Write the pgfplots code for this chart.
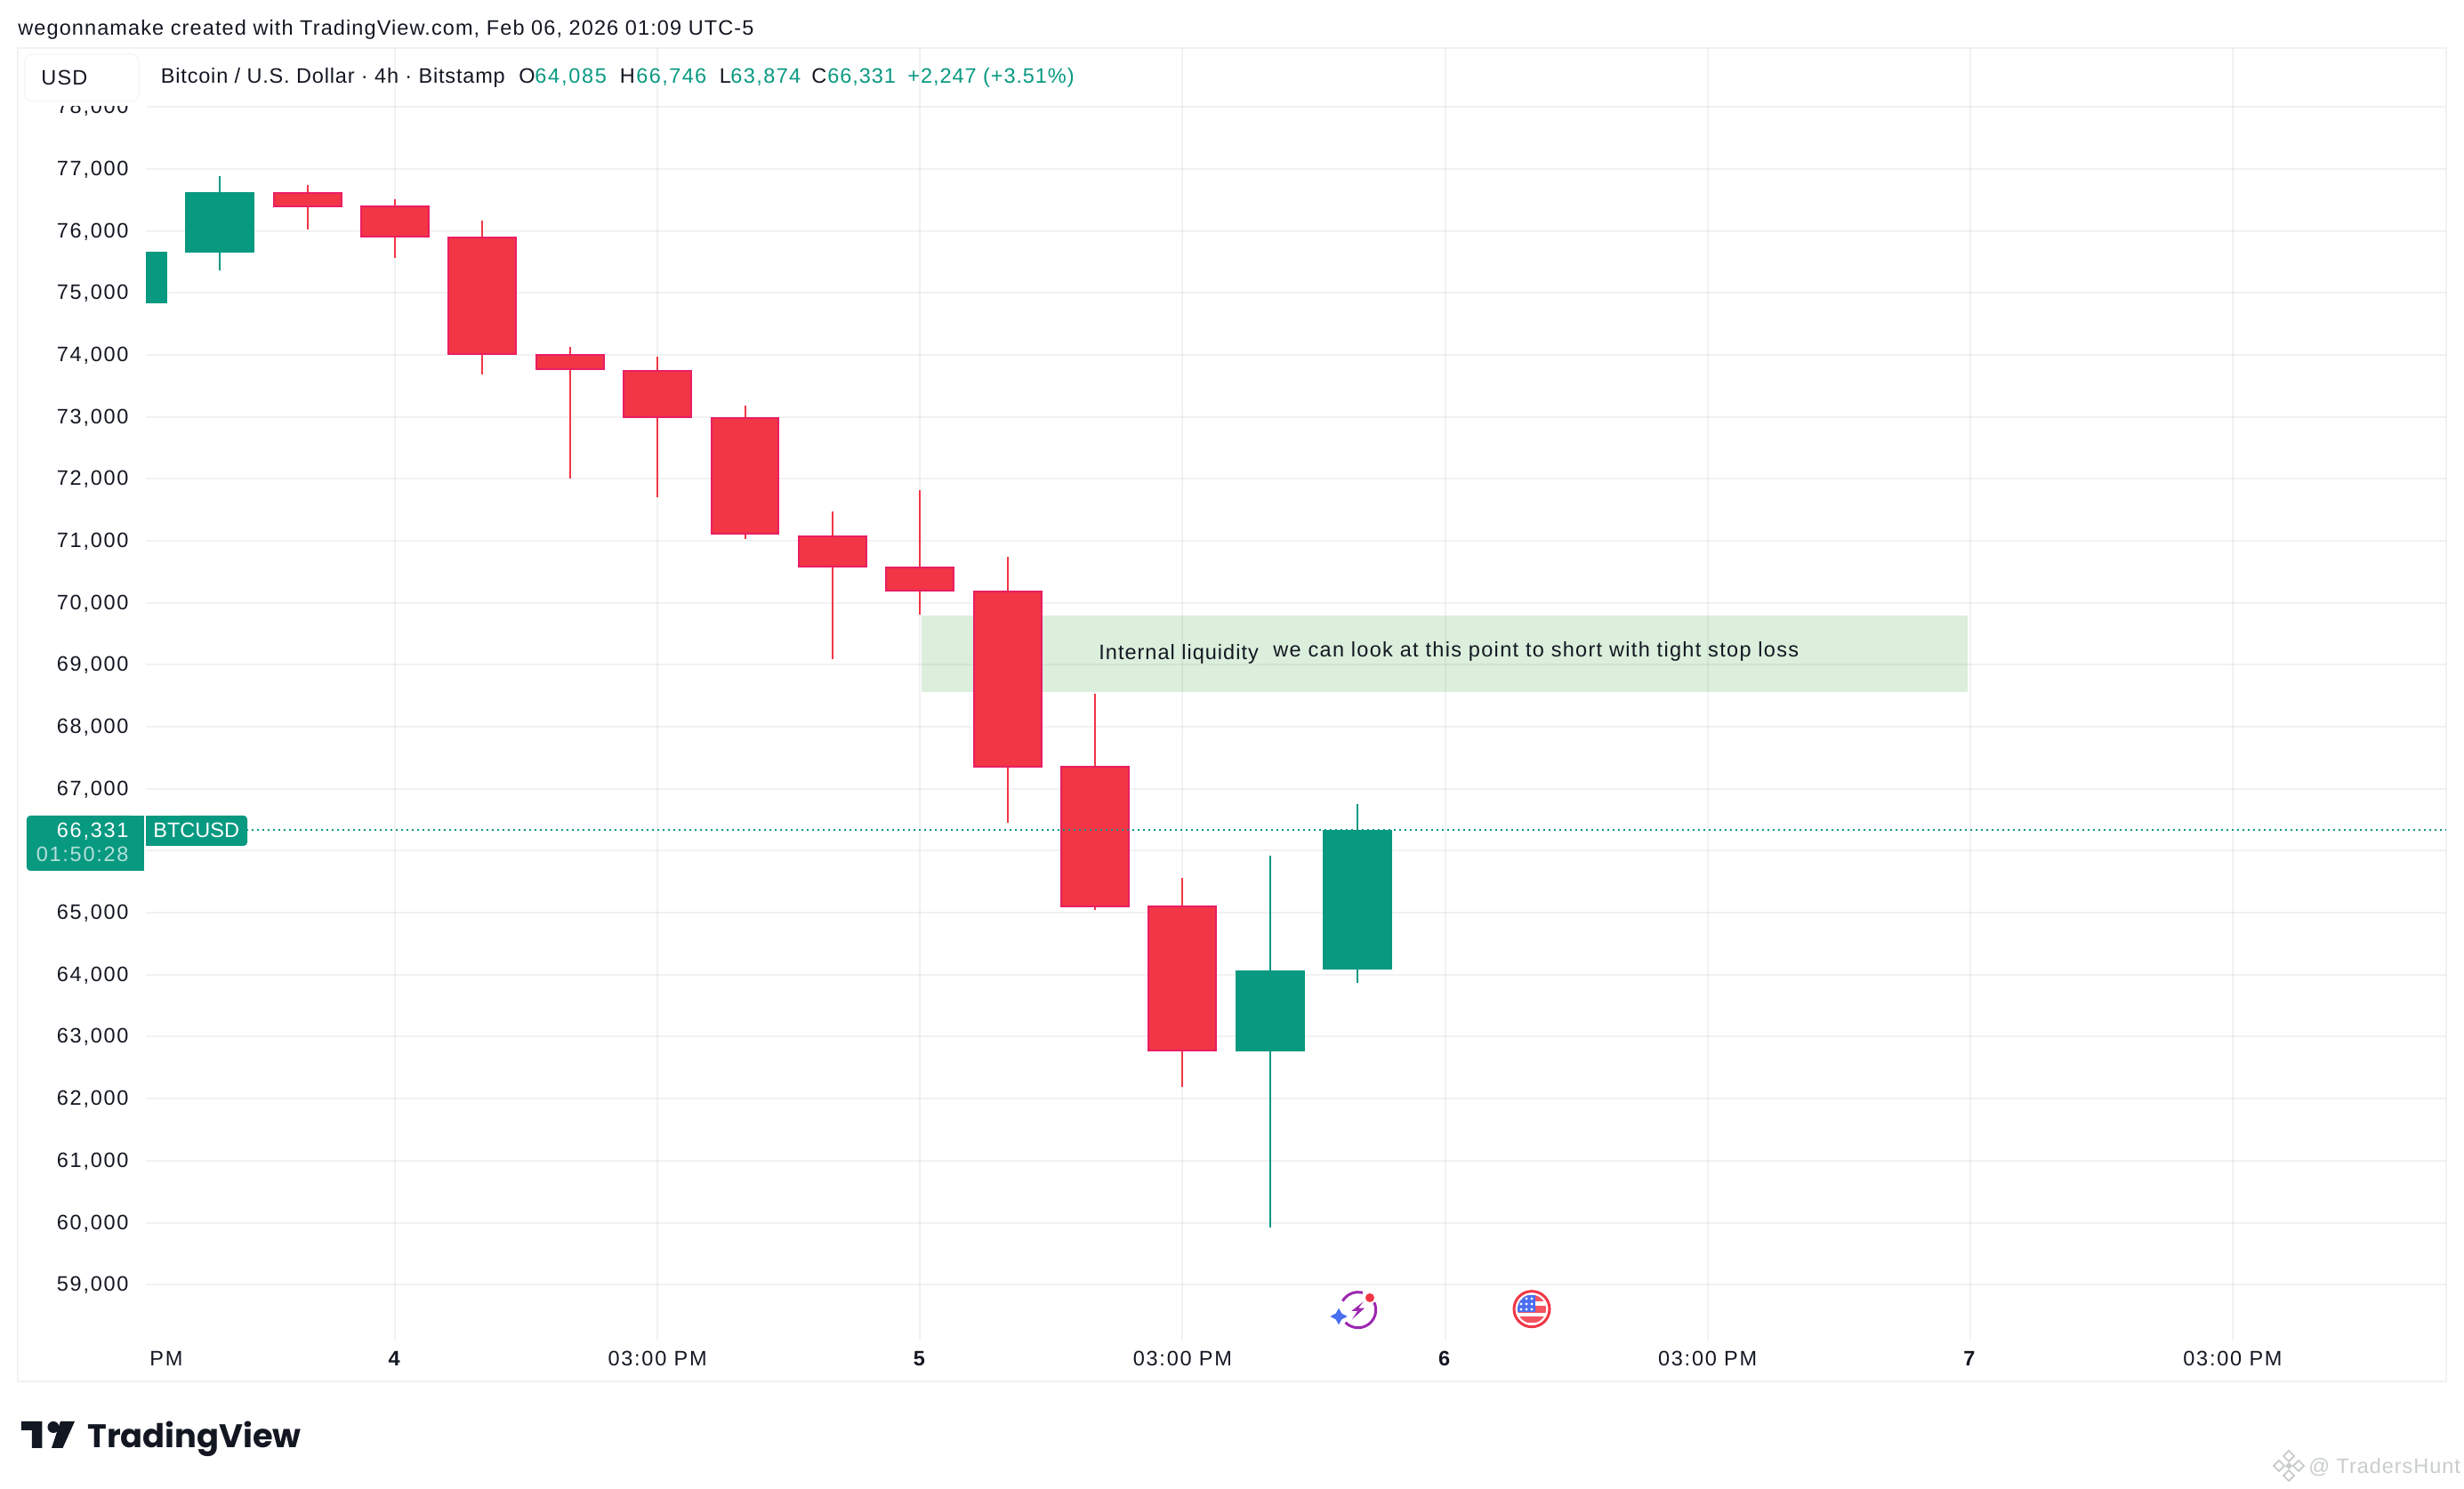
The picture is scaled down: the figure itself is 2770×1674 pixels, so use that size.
\documentclass[border=0pt]{standalone}
\usepackage{fontspec}
\usepackage{pgfplots}
\pgfplotsset{compat=1.18}
\setmainfont{Liberation Sans}[LetterSpace=5]
\newfontfamily\logofont{Poppins}
\definecolor{tvgreen}{HTML}{089981}
\definecolor{tvred}{HTML}{F23645}
\definecolor{tvborder}{HTML}{E91E63}
\definecolor{tvtext}{HTML}{131722}
\definecolor{zone}{HTML}{4CAF50}
\definecolor{wm}{HTML}{C9CDCD}
\definecolor{iconpurple}{HTML}{9C27B0}
\definecolor{iconblue}{HTML}{4A6FF0}
\newcommand\tvfont{\fontsize{11.75}{14}\selectfont}
\newcommand\ls[1]{\addfontfeatures{LetterSpace=#1}}
% position, open, high, low, close
\newcommand\redcandle[5]{%
  \pgfmathsetmacro\xl{#1-0.386}\pgfmathsetmacro\xr{#1+0.386}%
  \addplot[tvred,line width=1pt] coordinates {(#1,#3) (#1,#4)};
  \addplot[draw=tvborder,fill=tvred,line width=1pt] coordinates {(\xl,#2) (\xr,#2) (\xr,#5) (\xl,#5)} --cycle;
}
\newcommand\greencandle[5]{%
  \pgfmathsetmacro\xl{#1-0.3965}\pgfmathsetmacro\xr{#1+0.3965}%
  \addplot[tvgreen,line width=1pt] coordinates {(#1,#3) (#1,#4)};
  \addplot[draw=none,fill=tvgreen] coordinates {(\xl,#2) (\xr,#2) (\xr,#5) (\xl,#5)} --cycle;
}
\begin{document}
\begin{tikzpicture}
\begin{scope}[x=.5pt,y=-.5pt,shift={(-82pt,753.5pt)}]
\useasboundingbox (0,0) rectangle (2770,1674);
\fill[white] (0,0) rectangle (2770,1674);
\draw[black!5,line width=1pt] (20,54) rectangle (2750,1553);
\end{scope}
\begin{axis}[
  at={(0pt,0pt)},anchor=south west,scale only axis,
  width=1293pt,height=726.5pt,
  xmin=-2.846,xmax=23.44,ymin=58099,ymax=78952,
  axis line style={draw=none},major tick length=0pt,
  xtick={0,3,6,9,12,15,18,21},
  xticklabels={\textbf{4},03:00 PM,\textbf{5},03:00 PM,\textbf{6},03:00 PM,\textbf{7},03:00 PM},
  ytick={59000,60000,61000,62000,63000,64000,65000,67000,68000,69000,70000,71000,72000,73000,74000,75000,76000,77000,78000},
  extra y ticks={66000},extra y tick labels={},
  extra tick style={grid=major},
  scaled y ticks=false,
  grid=major,
  major grid style={draw=black,opacity=.05,line width=1pt},
  /pgf/number format/fixed,
  /pgf/number format/1000 sep={,},
  /pgf/number format/assume math mode=true,
  ticklabel style={font=\tvfont\ls{7.5},text=tvtext},
  y tick label style={anchor=east,inner xsep=0pt,xshift=-9.5pt,yshift=-.4pt},
  x tick label style={anchor=base,inner ysep=0pt,yshift=-14.5pt},
]
\addplot[draw=none,fill=zone,fill opacity=.2] coordinates {(6.02,69796) (17.97,69796) (17.97,68561) (6.02,68561)} --cycle;
\greencandle{-3}{74833}{75665}{74833}{75665}
\greencandle{-2}{75651}{76885}{75364}{76627}
\redcandle{-1}{76613}{76742}{76024}{76401}
\redcandle{0}{76398}{76512}{75565}{75909}
\redcandle{1}{75895}{76168}{73685}{74014}
\redcandle{2}{74001}{74130}{72006}{73771}
\redcandle{3}{73743}{73972}{71704}{72996}
\redcandle{4}{72982}{73182}{71030}{71116}
\redcandle{5}{71073}{71475}{69093}{70585}
\redcandle{6}{70571}{71819}{69810}{70197}
\redcandle{7}{70183}{70743}{66452}{67356}
\redcandle{8}{67356}{68533}{65045}{65102}
\redcandle{9}{65103}{65562}{62190}{62778}
\greencandle{10}{62764}{65921}{59922}{64070}
\greencandle{11}{64085}{66746}{63874}{66331}
\addplot[tvgreen,line width=1pt,dash pattern=on 1pt off 2pt] coordinates {(-1.7,66331) (23.44,66331)};
\end{axis}
\begin{scope}[x=.5pt,y=-.5pt,shift={(-82pt,753.5pt)},every node/.style={inner sep=0pt,font=\tvfont,text=tvtext}]
% panel hiding the top of the highest price label
\fill[white] (21,55) rectangle (163,119.5);
\filldraw[draw=black!5,fill=white,line width=.5pt,rounded corners=4pt] (28,61) rectangle (156,114);
\node[anchor=base west] at (46,96) {USD};
\node[anchor=base west] at (20,40) {\ls{4.7}wegonnamake created with TradingView.com, Feb 06, 2026 01:09 UTC-5};
\node[anchor=base west] at (180.5,94) {\ls{3.5}Bitcoin / U.S. Dollar · 4h · Bitstamp};
\node[anchor=base west] at (583,94) {O};
\node[anchor=base west,text=tvgreen] at (601,94) {\ls{7.5}64,085};
\node[anchor=base west] at (696.5,94) {H};
\node[anchor=base west,text=tvgreen] at (715,94) {\ls{6}66,746};
\node[anchor=base west] at (808.5,94) {L};
\node[anchor=base west,text=tvgreen] at (821,94) {\ls{6}63,874};
\node[anchor=base west] at (912,94) {C};
\node[anchor=base west,text=tvgreen] at (930,94) {\ls{4}66,331};
\node[anchor=base west,text=tvgreen] at (1020,94) {\ls{4}+2,247 (+3.51\%)};
\node[anchor=base west] at (168,1536) {\ls{7.5}PM};
% annotation
\node[anchor=base west] at (1235,741.5) {\ls{4.3}Internal liquidity};
\node[anchor=base west] at (1431,739) {\ls{5.6}we can look at this point to short with tight stop loss};
% price labels
\fill[tvgreen,rounded corners=2pt] (30,917) rectangle (150,979);
\fill[tvgreen] (40,917) rectangle (162,979);
\fill[tvgreen,rounded corners=2pt] (200,917) rectangle (278,951);
\fill[tvgreen] (164,917) rectangle (260,951);
\node[anchor=base east,text=white] at (145,941.7) {\ls{7.5}66,331};
\node[anchor=base east,text=white!70!tvgreen] at (145,969) {\ls{7.5}01:50:28};
\node[anchor=base west,text=white] at (172,941.7) {\ls{0}BTCUSD};
% TradingView logo
\fill[tvtext] (24,1598)--(47.5,1598)--(47.5,1628)--(36,1628)--(36,1608)--(24,1608)--cycle;
\fill[tvtext] (60,1604.5) circle[radius=6.5];
\fill[tvtext] (68,1598)--(84,1598)--(70.5,1628)--(58,1628)--cycle;
\node[anchor=base west,text=tvtext] at (98,1628) {\logofont\bfseries\fontsize{18.4}{22}\selectfont TradingView};
% watermark
\foreach \cx/\cy in {2573/1637,2562/1648,2584/1648,2573/1659}{
  \draw[wm,line width=.9pt] (\cx-6,\cy)--(\cx,\cy-6)--(\cx+6,\cy)--(\cx,\cy+6)--cycle;}
\fill[wm] (2569,1648)--(2573,1644)--(2577,1648)--(2573,1652)--cycle;
\node[anchor=base west,text=wm] at (2595,1657) {\ls{4}@ TradersHunt};
% event icons
\draw[iconpurple,line width=1.5pt] (1526.7,1472.7)++(-150:20) arc[start angle=-150,end angle=-75,radius=20];
\draw[iconpurple,line width=1.5pt] (1526.7,1472.7)++(-25:20) arc[start angle=-25,end angle=135,radius=20];
\fill[iconpurple] (1532.7,1463.3)--(1519.3,1474)--(1526,1474)--(1520,1483.3)--(1534,1470.7)--(1527.3,1470.7)--cycle;
\fill[iconblue] (1505,1470.7)--(1508.3,1476.7)--(1514.7,1480)--(1508.3,1483.3)--(1505,1489.3)--(1501.7,1483.3)--(1495.3,1480)--(1501.7,1476.7)--cycle;
\fill[tvred] (1540,1459) circle[radius=5];
\begin{scope}
\clip (1722,1471.7) circle[radius=16];
\fill[white] (1700,1450) rectangle (1744,1495);
\fill[tvred!85!white] (1700,1456) rectangle (1744,1463.5);
\fill[tvred!85!white] (1700,1468.5) rectangle (1744,1475.7);
\fill[tvred!85!white] (1700,1480) rectangle (1744,1487.5);
\fill[iconblue] (1700,1456) rectangle (1726,1475);
\foreach \sx in {1710,1716,1722}{\foreach \sy in {1460,1466,1472}{\fill[white] (\sx,\sy) circle[radius=1.6];}}
\end{scope}
\draw[tvred,line width=1.5pt] (1722,1471.7) circle[radius=20];
\end{scope}
\end{tikzpicture}
\end{document}
